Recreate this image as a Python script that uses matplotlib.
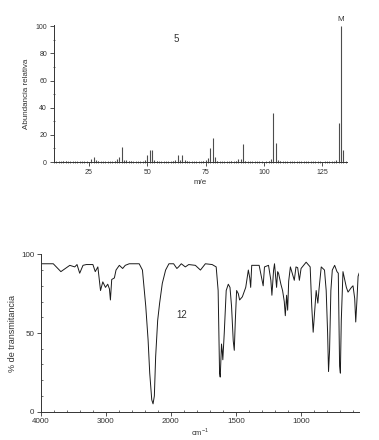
"""Mass spectrum (5) and IR spectrum (12) panel."""

import matplotlib
matplotlib.use("Agg")
import matplotlib.pyplot as plt
import numpy as np
from matplotlib.ticker import FixedLocator, MultipleLocator

plt.rcParams["font.family"] = ["Liberation Sans", "DejaVu Sans"]
plt.rcParams["mathtext.fontset"] = "custom"
plt.rcParams["mathtext.rm"] = "Liberation Sans"

# mass spectrum: m/e and relative abundance
ms_mz = [14, 15, 26, 27, 28, 29, 36, 37, 38, 39, 40, 41, 42, 43, 49, 50, 51, 52, 53,
         54, 61, 62, 63, 64, 65, 66, 67, 74, 75, 76, 77, 78, 79, 80, 86, 88, 89, 90,
         91, 92, 102, 103, 104, 105, 106, 107, 131, 132, 133, 134]
ms_abund = [0.5, 1.0, 2.0, 3.6, 1.5, 0.5, 1.0, 2.5, 4.0, 11.0, 1.5, 1.5, 0.8, 0.5, 1.5,
            5.3, 9.0, 8.5, 1.7, 0.5, 1.0, 1.5, 4.9, 1.5, 5.3, 1.5, 0.5, 1.0, 1.5, 3.0,
            10.5, 18.0, 4.0, 0.5, 0.5, 1.0, 2.0, 2.5, 13.5, 1.0, 1.0, 2.0, 36.0, 14.0,
            1.5, 0.5, 1.5, 29.0, 100.0, 9.0]

# IR spectrum: wavenumber (cm-1) and % transmittance
ir_wn = [4000, 3807, 3690, 3553, 3477, 3442, 3401, 3350, 3300, 3198, 3162, 3122, 3081,
         3046, 3005, 2970, 2944, 2929, 2909, 2868, 2843, 2792, 2741, 2701, 2640, 2487,
         2437, 2386, 2350, 2325, 2294, 2274, 2254, 2234, 2203, 2173, 2132, 2081, 2030,
         1979, 1954, 1941, 1920, 1889, 1863, 1812, 1773, 1735, 1683, 1652, 1637, 1626,
         1621, 1611, 1606, 1601, 1590, 1575, 1559, 1546, 1534, 1521, 1513, 1505, 1495,
         1482, 1472, 1451, 1425, 1405, 1394, 1387, 1379, 1322, 1291, 1281, 1250, 1232,
         1224, 1211, 1204, 1188, 1180, 1173, 1155, 1142, 1129, 1121, 1111, 1103, 1095,
         1082, 1064, 1052, 1039, 1026, 1013, 1000, 961, 930, 918, 907, 897, 884, 871,
         863, 845, 820, 807, 796, 789, 781, 771, 760, 742, 724, 714, 704, 698, 691, 678,
         652, 639, 613, 601, 588, 580, 570, 562, 554]
ir_trans = [94, 94, 89, 93, 92, 93.5, 88, 93, 93.5, 93.5, 89, 92, 77,
            82.5, 79, 81, 78, 71, 84, 85, 90, 93, 91, 93, 94, 94,
            90, 67, 45.5, 24.5, 7.6, 5, 10, 35, 58, 69, 81.5, 90, 94,
            94, 91, 92, 94, 92, 93.5, 93, 90, 94, 93.5, 92, 77, 24.5,
            22, 43, 39, 33, 50, 77, 81, 79, 67, 45, 39, 58, 77,
            75, 71, 73, 79, 90, 85, 79, 93, 93, 80, 92, 93, 83.5,
            74, 90, 94, 79, 89, 88, 81, 77, 70, 61, 74, 64.5, 83,
            92, 87, 83.5, 92, 91.5, 83.5, 91, 95, 92, 67, 50.5, 62, 77, 69,
            77, 92, 90, 77, 50, 25.5, 39, 77, 90, 93, 89, 88, 29, 24.5, 58, 89,
            79, 76, 79, 80, 72, 57, 72, 86, 88]

ir_ticks = [4000, 3000, 2000, 1500, 1000]


def ir_forward(w):
    w = np.asarray(w, dtype=float)
    return np.where(w >= 2000, w, 2000 - (2000 - w) * 2)


def ir_inverse(x):
    x = np.asarray(x, dtype=float)
    return np.where(x >= 2000, x, 2000 - (2000 - x) / 2)


def main() -> None:
    fig = plt.figure(figsize=(3.79, 4.40), dpi=100)
    text_color = "#333333"

    # mass spectrum
    ax = fig.add_axes([0.1425, 0.6318, 0.7723, 0.3114])
    ax.vlines(ms_mz, 0, ms_abund, color="#4d4d4d", linewidth=0.8)
    ax.set_xlim(10, 135.5)
    ax.set_ylim(0, 101)
    ax.xaxis.set_major_locator(FixedLocator([25, 50, 75, 100, 125]))
    ax.xaxis.set_minor_locator(MultipleLocator(1))
    ax.yaxis.set_major_locator(MultipleLocator(20))
    ax.yaxis.set_minor_locator(MultipleLocator(10))
    ax.tick_params(which="major", length=3, width=0.6, labelsize=5.0, pad=2,
                   colors=text_color)
    ax.tick_params(which="minor", length=1.2, width=0.5, direction="inout",
                   colors=text_color)
    ax.spines[["top", "right"]].set_visible(False)
    ax.spines[["left", "bottom"]].set_linewidth(0.7)
    ax.spines[["left", "bottom"]].set_color(text_color)
    ax.set_xlabel("m/e", fontsize=5.8, color=text_color, labelpad=2)
    ax.set_ylabel("Abundancia relativa", fontsize=5.8, color=text_color, labelpad=4)
    ax.text(133, 102.5, "M", fontsize=5.8, color=text_color, ha="center", va="bottom")
    fig.text(0.466, 0.911, "5", fontsize=7, color=text_color, ha="center", va="center")

    # IR spectrum
    bx = fig.add_axes([0.1074, 0.0643, 0.8398, 0.3577])
    bx.set_xscale("function", functions=(ir_forward, ir_inverse))
    bx.plot(ir_wn, ir_trans, color="#1a1a1a", linewidth=0.7)
    bx.set_xlim(4000, 555)
    bx.set_ylim(0, 100)
    bx.xaxis.set_major_locator(FixedLocator(ir_ticks))
    bx.xaxis.set_minor_locator(FixedLocator(
        list(range(3800, 2000, -200)) + list(range(1900, 500, -100))))
    bx.yaxis.set_major_locator(FixedLocator([0, 50, 100]))
    bx.yaxis.set_minor_locator(MultipleLocator(10))
    bx.set_xticklabels([str(t) for t in ir_ticks])
    bx.tick_params(which="major", length=3, width=0.6, labelsize=5.8, pad=1.5,
                   colors=text_color)
    bx.tick_params(which="minor", length=1.3, width=0.5, direction="in",
                   colors=text_color)
    bx.spines[["top", "right"]].set_visible(False)
    bx.spines[["left", "bottom"]].set_linewidth(0.7)
    bx.spines[["left", "bottom"]].set_color(text_color)
    bx.set_xlabel("cm$^{-1}$", fontsize=5.5, color=text_color, labelpad=0.5)
    bx.set_ylabel("% de transmitancia", fontsize=6.5, color=text_color, labelpad=3)
    fig.text(0.479, 0.284, "12", fontsize=7, color=text_color, ha="center", va="center")

    fig.savefig("out.png", dpi=100)
    plt.close(fig)


if __name__ == "__main__":
    main()
